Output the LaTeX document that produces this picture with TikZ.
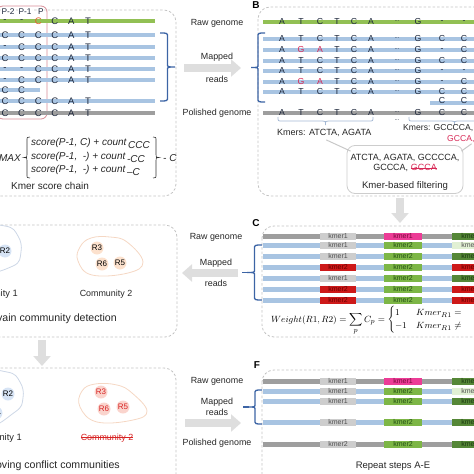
\documentclass[tikz,border=0pt]{standalone}
\usepackage{fontspec}
\setmainfont{Liberation Sans}
\usepackage{amsmath}
\usetikzlibrary{arrows.meta}
\definecolor{gen}{RGB}{146,192,84}
\definecolor{rd}{RGB}{168,196,226}
\definecolor{pol}{RGB}{158,158,158}
\definecolor{ltr}{RGB}{30,40,60}
\definecolor{redl}{RGB}{215,40,85}
\definecolor{orl}{RGB}{225,95,45}
\definecolor{brc}{RGB}{60,100,165}
\definecolor{dsh}{RGB}{195,195,195}
\definecolor{arr}{RGB}{222,222,222}
\definecolor{redbox}{RGB}{215,140,150}
\definecolor{kg}{RGB}{205,205,205}
\definecolor{kgt}{RGB}{80,80,80}
\definecolor{kp}{RGB}{236,60,150}
\definecolor{kpt}{RGB}{120,10,60}
\definecolor{kgr}{RGB}{125,182,70}
\definecolor{kgrt}{RGB}{35,80,20}
\definecolor{kdg}{RGB}{85,135,55}
\definecolor{kdgt}{RGB}{25,55,15}
\definecolor{kr}{RGB}{205,25,25}
\definecolor{krt}{RGB}{105,0,0}
\definecolor{klg}{RGB}{225,240,212}
\definecolor{bl1}{RGB}{205,215,230}
\definecolor{bl2}{RGB}{245,215,195}
\definecolor{c1f}{RGB}{215,228,245}
\definecolor{c2f}{RGB}{252,225,205}
\definecolor{c3f}{RGB}{250,212,205}
\definecolor{redt}{RGB}{215,35,35}
\definecolor{brl}{RGB}{165,185,212}
\definecolor{conn}{RGB}{200,200,200}

\newcommand{\strk}[1]{\setbox0\hbox{#1}\rlap{\raisebox{0.3em}{\rule{\wd0}{0.6pt}}}\box0}
\newcommand{\rL}[1]{\textcolor{redl}{#1}}
\newcommand{\orC}{\textcolor{orl}{C}}
\newcommand{\mydots}{\raisebox{1pt}{\fontsize{6}{7}\selectfont...}}
\newcommand{\mybracev}[5]{%
 \pgfmathsetmacro{\bxm}{(#1+#2)/2}%
 \pgfmathsetmacro{\bym}{(#3+#4)/2}%
 \draw[#5] (#1,#3) .. controls (\bxm,#3) .. (\bxm,#3+4) -- (\bxm,\bym-3) .. controls (\bxm,\bym) .. (#2,\bym) .. controls (\bxm,\bym) .. (\bxm,\bym+3) -- (\bxm,#4-4) .. controls (\bxm,#4) .. (#1,#4);}
\newcommand{\mybraceh}[5]{%
 \pgfmathsetmacro{\bxm}{(#1+#2)/2}%
 \pgfmathsetmacro{\bym}{(#3+#4)/2}%
 \draw[#5] (#1,#3) .. controls (#1,\bym) .. (#1+4,\bym) -- (\bxm-3,\bym) .. controls (\bxm,\bym) .. (\bxm,#4) .. controls (\bxm,\bym) .. (\bxm+3,\bym) -- (#2-4,\bym) .. controls (#2,\bym) .. (#2,#3);}
\newcommand{\arow}[3]{%
 \foreach \c [count=\j] in {#3} {\node[lta] (#1\j) at ({5+16.6*(\j-1)},#2) {\c};}}
\newcommand{\brow}[3]{%
 \foreach \c [count=\j] in {#3} {%
  \pgfmathsetmacro{\xx}{{282,301,320,337,354,371,397,418,442,464}[\j-1]}%
  \node[lt] (#1\j) at (\xx,#2) {\c};}}
\newcommand{\krowd}[9]{%
 \draw[krow,#3] (263,#2) -- (500,#2);
 \node[kbox,#4] (#1a) at (338,#2) {#5};
 \node[kbox,#6,minimum width=38pt] (#1b) at (403,#2) {#7};
 \node[kbox,#8,minimum width=38pt] (#1c) at (471,#2) {#9};}

\begin{document}
\begin{tikzpicture}[x=1pt,y=-1pt,
 lt/.style={font=\fontsize{8.7}{10}\selectfont, text=ltr, inner sep=0},
 lta/.style={font=\fontsize{9.5}{10}\selectfont, text=ltr, inner sep=0},
 lbl/.style={font=\fontsize{8.9}{10}\selectfont, text=black!85, inner sep=0},
 ttl/.style={font=\fontsize{10}{12}\selectfont, text=black!85, inner sep=0},
 fA/.style={font=\fontsize{10}{12}\selectfont\itshape, text=black!85, inner sep=0},
 rowline/.style={line width=4pt},
 krow/.style={line width=5pt},
 kbox/.style={minimum width=36pt, minimum height=7pt, inner sep=0, font=\fontsize{7}{8}\selectfont},
 kgray/.style={fill=kg,text=kgt},
 kpink/.style={fill=kp,text=kpt},
 kgreen/.style={fill=kgr,text=kgrt},
 kdark/.style={fill=kdg,text=kdgt},
 kred/.style={fill=kr,text=krt},
 klight/.style={fill=klg,text=kgt},
 panel/.style={draw=dsh, dash pattern=on 2.5pt off 2pt, line width=0.8pt, rounded corners=12pt},
 bigarrow/.style={draw=arr, line width=8pt, -{Triangle[length=10pt,width=17pt]}},
 bracestyle/.style={draw=brc, line width=1.3pt},
 fbr/.style={draw=black!80, line width=0.6pt},
 kbr/.style={draw=brl, line width=0.8pt},
 connector/.style={draw=conn, line width=1pt},
 blob1/.style={draw=bl1, line width=0.8pt},
 blob2/.style={draw=bl2, line width=0.8pt},
 rc/.style={circle, minimum size=13pt, inner sep=0, font=\fontsize{8}{9}\selectfont},
 plabel/.style={font=\bfseries\fontsize{10}{12}\selectfont, inner sep=0}
]
\useasboundingbox (0,0) rectangle (474,474);
\clip (0,0) rectangle (474,474);

% ---------- panels ----------
\draw[panel] (-20,10) rectangle (176,196);
\draw[panel] (258,7) rectangle (500,196);
\draw[panel] (-20,225) rectangle (177,337);
\draw[panel] (262,226) rectangle (500,337);
\draw[panel] (-20,368) rectangle (176,490);
\draw[panel] (262,370) rectangle (500,490);

% ---------- panel A ----------
\draw[draw=redbox, line width=0.8pt, rounded corners=6pt] (-3,6) rectangle (47,119);
\node[lt, fill=white, inner sep=0.2pt, font=\fontsize{8.3}{9}\selectfont] (pm2) at (8,11.5) {P-2};
\node[lt, fill=white, inner sep=0.2pt, font=\fontsize{8.3}{9}\selectfont] (pm1) at (25,11.5) {P-1};
\node[lt, fill=white, inner sep=0.2pt, font=\fontsize{8.3}{9}\selectfont] (pm0) at (41,11.5) {P};
\draw[rowline, gen] (-5,21) -- (155,21);
\draw[rowline, rd] (-5,35) -- (155,35);
\draw[rowline, rd] (-5,47) -- (155,47);
\draw[rowline, rd] (-5,58) -- (155,58);
\draw[rowline, rd] (-5,69) -- (155,69);
\draw[rowline, rd] (-5,80) -- (155,80);
\draw[rowline, rd] (-5,90) -- (40,90);
\draw[rowline, rd] (-5,101) -- (155,101);
\draw[rowline, pol] (-5,113) -- (155,113);
\arow{ag}{21.5}{-,-,\orC,C,A,T}
\arow{ar1}{35}{C,C,C,C,A,T}
\arow{ar2}{47}{-,C,C,C,A,T}
\arow{ar3}{58}{C,C,C,C,A,T}
\arow{ar4}{69}{-,-,C,C,A,T}
\arow{ar5}{80}{-,C,C,C,A,T}
\arow{ar6}{90}{C,C}
\arow{ar7}{101}{C,C,C,C,A,T}
\arow{ap}{113}{C,C,C,C,A,T}
\mybracev{160}{175}{33}{101}{bracestyle}

\node[fA] (max) at (10,158) {MAX};
\mybracev{30}{24}{137}{178}{fbr}
\node[fA, anchor=west] (fa1) at (31,143) {score(P-1, C) + count\,\raisebox{-3pt}{CCC}};
\node[fA, anchor=west] (fa2) at (31,157) {score(P-1, \ -) + count\,\raisebox{-3pt}{-CC}};
\node[fA, anchor=west] (fa3) at (31,170.5) {score(P-1, \ -) + count\,\raisebox{-3pt}{--C}};
\mybracev{153}{159}{137}{178}{fbr}
\node[fA, anchor=west] (fam) at (163,158) {- C};
\node[ttl] (fat) at (50,186) {Kmer score chain};

% ---------- labels A-B ----------
\node[lbl] (lraw1) at (217,23) {Raw genome};
\node[lbl] (lmap1) at (217,57) {Mapped};
\node[lbl] (lrea1) at (217,79) {reads};
\node[lbl] (lpol1) at (217,113) {Polished genome};
\coordinate (ab1) at (184,68);
\coordinate (ab2) at (241,68);
\draw[bigarrow] (ab1) -- (ab2);

% ---------- panel B ----------
\node[plabel] (pB) at (256,5) {B};
\draw[rowline, gen] (263,22) -- (500,22);
\draw[rowline, rd] (263,39) -- (500,39);
\draw[rowline, rd] (263,50) -- (500,50);
\draw[rowline, rd] (263,61) -- (500,61);
\draw[rowline, rd] (263,71) -- (500,71);
\draw[rowline, rd] (263,82) -- (500,82);
\draw[rowline, rd] (263,92) -- (500,92);
\draw[rowline, rd] (430,103) -- (500,103);
\draw[rowline, pol] (263,113) -- (500,113);
\brow{bg}{22}{A,T,C,T,C,A,\mydots,G,-,-}
\brow{br1}{39}{A,T,C,T,C,A,\mydots,G,C,C}
\brow{br2}{50}{A,\rL{G},\rL{A},T,C,A,\mydots,G,-,C}
\brow{br3}{61}{A,T,C,T,C,A,\mydots,G,C,C}
\brow{br4}{71}{A,T,C,T,C,A,\mydots,G,-,-}
\brow{br5}{82}{A,\rL{G},\rL{A},T,C,A,\mydots,G,-,C}
\brow{br6}{92}{A,T,C,T,C,A,\mydots,G,C,C}
\node[lt] (br7a) at (442,101) {C};
\node[lt] (br7b) at (464,101) {C};
\brow{bp}{113}{A,T,C,T,C,A,\mydots,G,C,C}
\mybracev{265}{251}{33}{102}{bracestyle}
\mybraceh{278}{373}{117}{125}{kbr}
\mybraceh{409}{500}{117}{125}{kbr}
\node[lt] (bdots) at (397,121) {\mydots};
\node[lbl, anchor=west, font=\fontsize{9}{10}\selectfont] (km1) at (277,133) {Kmers: ATCTA, AGATA};
\node[lbl, anchor=west, font=\fontsize{8.6}{10}\selectfont] (km2) at (403,128) {Kmers: GCCCCA,};
\node[lbl, anchor=west, font=\fontsize{8.6}{10}\selectfont, text=redl] (km3) at (447,139) {GCCA,};
\node[draw=kg, line width=0.8pt, rounded corners=8pt, minimum width=116pt, minimum height=48pt, inner sep=0] (fbox) at (405,169.5) {};
\node[lbl, align=center, font=\fontsize{9}{10.5}\selectfont] (flt) at (405,163) {ATCTA, AGATA, GCCCCA,\\GCCCA, \textcolor{redl}{\strk{GCCA}}};
\node[ttl, font=\fontsize{9.6}{11}\selectfont] (fltt) at (405,186) {Kmer-based filtering};
\draw[connector] ([xshift=2pt,yshift=-3pt]km1.south) -- ([xshift=4pt,yshift=-6pt]fbox.north west);
\draw[connector] ([xshift=-3pt,yshift=-1pt]km3.south east) -- ([xshift=-2pt,yshift=-6pt]fbox.north east);
\coordinate (bc1) at (400,198);
\coordinate (bc2) at (400,223);
\draw[bigarrow] (bc1) -- (bc2);

% ---------- panel C ----------
\node[plabel] (pC) at (256,223) {C};
\krowd{c0}{236}{pol}{kgray}{kmer1}{kpink}{kmer1}{kdark}{kmer2}
\krowd{c1}{245}{rd}{kgray}{kmer1}{kgreen}{kmer2}{klight}{kmer2}
\krowd{c2}{256}{rd}{kgray}{kmer1}{kgreen}{kmer2}{kdark}{kmer2}
\krowd{c3}{267}{rd}{kred}{kmer2}{kgreen}{kmer2}{kred}{kmer2}
\krowd{c4}{278}{rd}{kgray}{kmer1}{kgreen}{kmer2}{kdark}{kmer2}
\krowd{c5}{289}{rd}{kred}{kmer2}{kgreen}{kmer2}{kred}{kmer2}
\krowd{c6}{300}{rd}{kred}{kmer2}{kgreen}{kmer2}{kred}{kmer2}
\mybracev{262}{247}{245}{300}{bracestyle}
\coordinate (cst1) at (248,272.5);
\coordinate (cst2) at (242,272.5);
\draw[bracestyle] (cst1) -- (cst2);
\node[anchor=west, inner sep=0, font=\fontsize{9.3}{11}\selectfont] (wf) at (271,320.5) {\def\arraystretch{1.0}$\displaystyle Weight(R1, R2) = \sum_p C_p = \begin{cases} 1 & Kmer_{R1} = \\ -1 & Kmer_{R1} \neq \end{cases}$};

% ---------- labels C ----------
\node[lbl] (lraw2) at (216,237) {Raw genome};
\node[lbl] (lmap2) at (216,263) {Mapped};
\node[lbl] (lrea2) at (216,283) {reads};
\coordinate (cd1) at (238,273);
\coordinate (cd2) at (182,273);
\draw[bigarrow] (cd1) -- (cd2);

% ---------- panel D ----------
\draw[blob1] plot[smooth cycle, tension=0.7] coordinates {(-30,228) (5,226) (18,236) (21,252) (13,266) (-20,270)};
\node[rc, fill=c1f] (d2) at (5,251) {R2};
\draw[blob2] plot[smooth cycle, tension=0.7] coordinates {(80,247) (91,238) (110,237) (127,242) (143,262) (128,273) (92,275) (78,261)};
\node[rc, fill=c2f] (d3) at (97,248) {R3};
\node[rc, fill=c2f] (d6) at (102,264) {R6};
\node[rc, fill=c2f] (d5) at (120,263) {R5};
\node[lbl, anchor=east, font=\fontsize{9.3}{10}\selectfont] (dc1) at (18,294) {Community 1};
\node[lbl] (dc2) at (106,294) {Community 2};
\node[ttl, anchor=east, font=\fontsize{10.6}{12}\selectfont] (dt) at (117,319) {Louvain community detection};
\coordinate (de1) at (42,340);
\coordinate (de2) at (42,366);
\draw[bigarrow] (de1) -- (de2);

% ---------- panel E ----------
\draw[blob1] plot[smooth cycle, tension=0.7] coordinates {(-28,374) (7,372) (20,382) (23,398) (15,412) (-18,426)};
\node[rc, fill=c1f] (e2) at (8,394) {R2};
\node[rc, fill=c1f] (e4) at (-4,413) {R4};
\draw[blob2] plot[smooth cycle, tension=0.7] coordinates {(82,391) (95,384) (117,385) (132,393) (147,411) (133,420) (97,422) (80,407)};
\node[rc, fill=c3f, text=redt] (e3) at (101,392) {R3};
\node[rc, fill=c3f, text=redt] (e6) at (104,409) {R6};
\node[rc, fill=c3f, text=redt] (e5) at (123,407) {R5};
\node[lbl, anchor=east, font=\fontsize{9.3}{10}\selectfont] (ec1) at (22,438) {Community 1};
\node[lbl, text=redt] (ec2) at (107,438) {\strk{Community 2}};
\node[ttl, anchor=east, font=\fontsize{10.6}{12}\selectfont] (et) at (120,466) {Removing conflict communities};

% ---------- labels F ----------
\node[lbl] (lraw3) at (217,381) {Raw genome};
\node[lbl] (lmap3) at (217,402) {Mapped};
\node[lbl] (lrea3) at (217,412) {reads};
\node[lbl] (lpol3) at (217,443) {Polished genome};
\coordinate (ef1) at (185,423);
\coordinate (ef2) at (241,423);
\draw[bigarrow] (ef1) -- (ef2);

% ---------- panel F ----------
\node[plabel] (pF) at (257,365) {F};
\krowd{f0}{381}{pol}{kgray}{kmer1}{kpink}{kmer1}{kdark}{kmer2}
\krowd{f1}{391}{rd}{kgray}{kmer1}{kgreen}{kmer2}{klight}{kmer2}
\krowd{f2}{401}{rd}{kgray}{kmer1}{kgreen}{kmer2}{kdark}{kmer2}
\krowd{f3}{422}{rd}{kgray}{kmer1}{kgreen}{kmer2}{kdark}{kmer2}
\krowd{f4}{444}{pol}{kgray}{kmer2}{kgreen}{kmer2}{kdark}{kmer2}
\mybracev{262}{248}{390}{424}{bracestyle}
\coordinate (fst1) at (249,407);
\coordinate (fst2) at (243,407);
\draw[bracestyle] (fst1) -- (fst2);
\node[ttl, font=\fontsize{9.5}{11}\selectfont] (frep) at (393,466) {Repeat steps A-E};
\end{tikzpicture}
\end{document}
